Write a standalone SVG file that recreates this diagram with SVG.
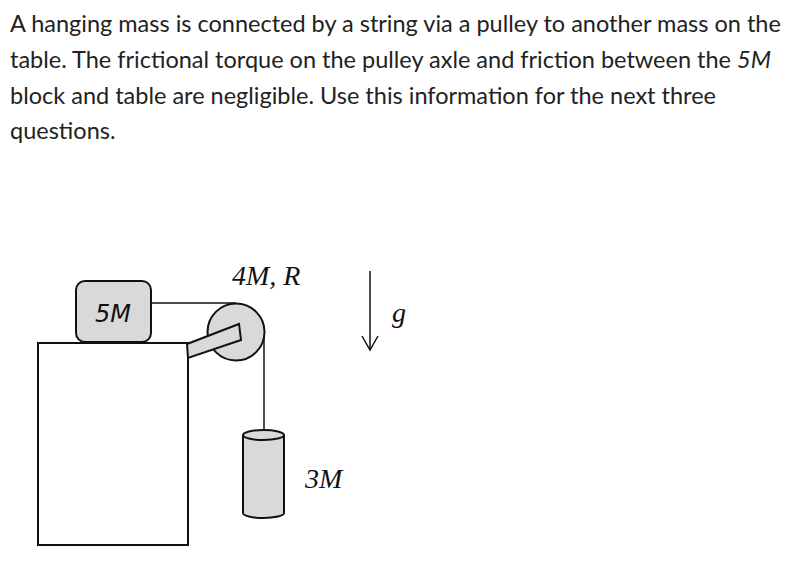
<svg xmlns="http://www.w3.org/2000/svg" width="811" height="583" viewBox="0 0 811 583">
<style>
.t{font-family:Lato,"Liberation Sans",sans-serif;font-size:23.5px;fill:#222}
.m{font-family:"Liberation Serif",serif;font-style:italic;font-size:28px;fill:#111}
.s{stroke:#111;stroke-width:2;fill:#d9d9d9}
.l{stroke:#111;stroke-width:1.5;fill:none}
</style>
<rect width="811" height="583" fill="#fff"/>
<text class="t" x="10" y="32">A hanging mass is connected by a string via a pulley to another mass on the</text>
<text class="t" x="10" y="68">table. The frictional torque on the pulley axle and friction between the <tspan font-style="italic">5M</tspan></text>
<text class="t" x="10" y="104">block and table are negligible. Use this information for the next three</text>
<text class="t" x="10" y="139">questions.</text>
<g id="connectors">
<line class="l" x1="151" y1="303" x2="236" y2="303"/>
<line class="l" x1="264" y1="332" x2="264" y2="434"/>
<line class="l" x1="370" y1="271" x2="370" y2="349"/>
<polyline class="l" points="362,336 370,350 378,336"/>
</g>
<g id="table"><rect x="38" y="343" width="150" height="202" fill="#fff" stroke="#111" stroke-width="2"/></g>
<g id="block5M"><rect class="s" x="76" y="281" width="75" height="61" rx="9"/>
<text x="113" y="322" text-anchor="middle" font-family="'DejaVu Sans',sans-serif" font-style="italic" font-size="24" fill="#111">5M</text></g>
<g id="pulley"><circle class="s" cx="236" cy="332" r="28.5"/>
<polygon class="s" points="187,344 239,324 241,340 188,358"/>
<text class="m" x="232" y="285">4M, R</text></g>
<g id="mass3M">
<path class="s" d="M243,435 V513 A20.5,5 0 0 0 284,513 V435"/>
<ellipse class="s" cx="263.5" cy="435" rx="20.5" ry="5"/>
<text class="m" x="305" y="488">3M</text></g>
<text class="m" x="392" y="322">g</text>
</svg>
